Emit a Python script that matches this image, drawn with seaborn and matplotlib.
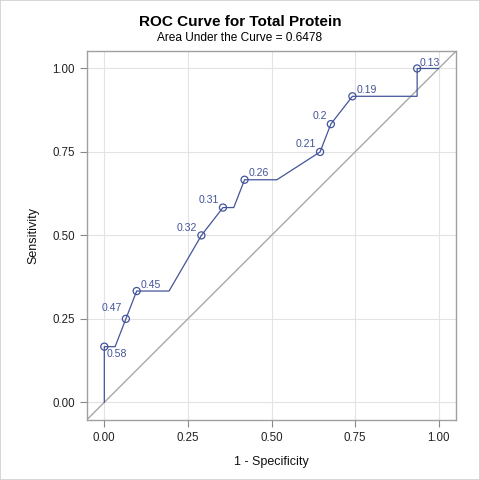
import matplotlib
matplotlib.use("Agg")
import matplotlib.pyplot as plt
import seaborn as sns
import pandas as pd

# ROC path (31 negatives, 12 positives)
fpr_counts = [0, 0, 1, 2, 3, 6, 9, 11, 12, 13, 16, 20, 21, 23, 29, 29, 31]
tpr_counts = [0, 2, 2, 3, 4, 4, 6, 7, 7, 8, 8, 9, 10, 11, 11, 12, 12]
n_neg, n_pos = 31, 12

# labelled cutpoints
pt_fpr = [0, 2, 3, 9, 11, 13, 20, 21, 23, 29]
pt_tpr = [2, 3, 4, 6, 7, 8, 9, 10, 11, 12]
pt_labels = ["0.58", "0.47", "0.45", "0.32", "0.31", "0.26", "0.21", "0.2", "0.19", "0.13"]

auc = 0.6478

curve = pd.DataFrame({"fpr": [c / n_neg for c in fpr_counts],
                      "tpr": [c / n_pos for c in tpr_counts]})
pts = pd.DataFrame({"fpr": [c / n_neg for c in pt_fpr],
                    "tpr": [c / n_pos for c in pt_tpr],
                    "label": pt_labels})

sns.set_theme(style="white")
plt.rcParams['font.family'] = ['Liberation Sans', 'DejaVu Sans']

line_col = "#44549a"
fig = plt.figure(figsize=(4.8, 4.8), dpi=100)
ax = fig.add_axes([0.1806, 0.125, 0.7701, 0.769])

ax.axline((0, 0), (1, 1), color="#a8a8a8", lw=1, zorder=1)
sns.lineplot(data=curve, x="fpr", y="tpr", sort=False, estimator=None,
             color=line_col, lw=0.9, ax=ax, zorder=3)
sns.scatterplot(data=pts, x="fpr", y="tpr", ax=ax, s=26, marker="o",
                facecolors="none", edgecolor=line_col, linewidth=0.9, zorder=4)

# label placement: offsets in points
place = {"0.58": (2, -2, "left", "top"), "0.47": (-3, 4, "right", "bottom"),
         "0.45": (3, 1, "left", "bottom"), "0.32": (-3, 2, "right", "bottom"),
         "0.31": (-3, 2, "right", "bottom"), "0.26": (3, 1, "left", "bottom"),
         "0.21": (-3, 2, "right", "bottom"), "0.2": (-3, 2, "right", "bottom"),
         "0.19": (3, 1, "left", "bottom"), "0.13": (2, 0, "left", "bottom")}
for _, r in pts.iterrows():
    dx, dy, ha, va = place[r["label"]]
    ax.annotate(r["label"], (r["fpr"], r["tpr"]), xytext=(dx, dy),
                textcoords="offset points", ha=ha, va=va,
                fontsize=7.6, color=line_col)

ticks = [0, 0.25, 0.5, 0.75, 1.0]
ax.set_xlim(-0.0527, 1.0527)
ax.set_ylim(-0.053, 1.0527)
ax.set_xticks(ticks)
ax.set_yticks(ticks)
ax.set_xticklabels([f"{t:.2f}" for t in ticks])
ax.set_yticklabels([f"{t:.2f}" for t in ticks])
ax.grid(True, color="#e3e3e3", lw=0.8)
ax.set_axisbelow(True)
for s in ax.spines.values():
    s.set_color("#a0a0a0")
    s.set_linewidth(1)
ax.tick_params(axis="both", which="both", length=5, width=0.8, color="#888888",
               labelsize=8.3, colors="#222222", pad=3.5, bottom=True, left=True)
ax.set_xlabel("1 - Specificity", fontsize=9, labelpad=8.5, color="#111111")
ax.set_ylabel("Sensitivity", fontsize=9, labelpad=9.5, color="#111111")

fig.text(0.5, 0.954, "ROC Curve for Total Protein", ha="center", va="center",
         fontsize=11, fontweight="bold", color="black")
fig.text(0.5, 0.920, f"Area Under the Curve = {auc}", ha="center", va="center",
         fontsize=8.6, color="black")

# outer light frame
fig.patches.append(plt.Rectangle((0.001, 0.001), 0.998, 0.998, transform=fig.transFigure,
                                 fill=False, edgecolor="#d0d0d0", lw=1.2))

fig.savefig("out.png", dpi=100)
